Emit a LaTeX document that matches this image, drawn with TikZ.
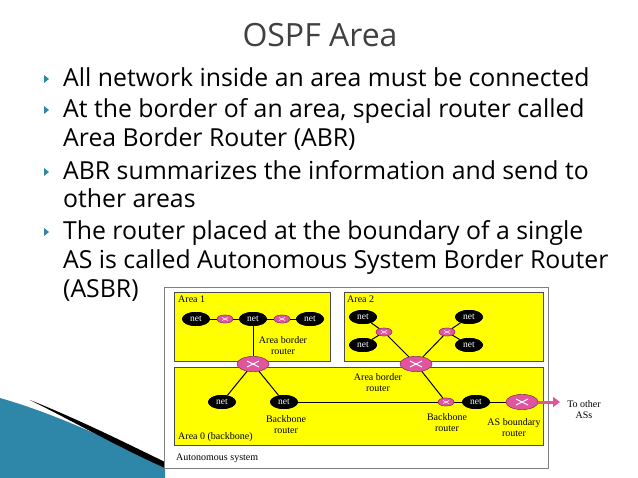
\documentclass[tikz,border=0pt]{standalone}
\usepackage{fontspec}
\setmainfont{Open Sans}
\newfontfamily\diag{Liberation Serif}
\usetikzlibrary{shapes.geometric,arrows.meta}
\definecolor{ylw}{HTML}{FFFF00}
\definecolor{pink}{HTML}{E0559E}
\definecolor{swblue}{HTML}{2E86A8}
\definecolor{ttl}{HTML}{404040}
\tikzset{
  net/.style={ellipse,fill=black,text=white,inner sep=0pt,minimum width=28bp,minimum height=14bp,font=\diag\fontsize{9.5bp}{10bp}\selectfont},
  srouter/.style={ellipse,fill=pink,draw=pink!60!black,inner sep=0pt,minimum width=16bp,minimum height=8bp},
  brouter/.style={ellipse,fill=pink,draw=pink!60!black,inner sep=0pt,minimum width=32bp,minimum height=15bp},
  area/.style={fill=ylw,draw=black!70,line width=0.8bp},
  lbl/.style={font=\diag\fontsize{10bp}{11bp}\selectfont,align=center,inner sep=0pt},
  link/.style={line width=1bp},
  bul/.style={anchor=base west,inner sep=0pt,font=\fontsize{24.8bp}{28bp}\selectfont,text=black},
}
\newcommand{\mybul}[1]{\fill[swblue] (44,#1-12) -- (49,#1-8) -- (44,#1-4) -- cycle;}
\begin{document}
\begin{tikzpicture}[x=1bp,y=-1bp]
\useasboundingbox (0,0) rectangle (638,478);
% swoosh
\fill[swblue] (0,398) .. controls (60,415) and (120,445) .. (165,466) -- (165,478) -- (0,478) -- cycle;
\fill[black] (30,400) .. controls (80,420) and (130,445) .. (165,462) -- (165,468) .. controls (120,448) and (80,425) .. (30,400) -- cycle;
% title
\node[text=ttl,font=\fontsize{32bp}{34bp}\selectfont] (title) at (320,35) {OSPF Area};
% bullets
\mybul{87}\mybul{118}\mybul{180}\mybul{240}
\node[bul] (l1) at (63,87) {All network inside an area must be connected};
\node[bul] (l2) at (63,118) {At the border of an area, special router called};
\node[bul] (l3) at (63,147) {Area Border Router (ABR)};
\node[bul] (l4) at (63,180) {ABR summarizes the information and send to};
\node[bul] (l5) at (63,208) {other areas};
\node[bul] (l6) at (63,240) {The router placed at the boundary of a single};
\node[bul] (l7) at (63,268) {AS is called Autonomous System Border Router};
\node[bul] (l8) at (63,297) {(ASBR)};
% diagram
\draw[fill=white,draw=black!50,line width=0.8bp] (164,287) rectangle (548,468);
\draw[area] (174,292) rectangle (330,361);
\draw[area] (344,292) rectangle (543,361);
\draw[area] (174,367) rectangle (543,445);
\node[lbl,anchor=west] (a1) at (178,299) {Area 1};
\node[lbl,anchor=west] (a2) at (347,299) {Area 2};
\node[lbl,anchor=west] (a0) at (178,437) {Area 0 (backbone)};
\node[lbl,anchor=west] (as) at (176,458) {Autonomous system};
% area 1
\node[net] (n1) at (196,319) {net};
\node[srouter] (r1) at (225,319) {};
\node[net] (n2) at (253,319) {net};
\node[srouter] (r2) at (282,319) {};
\node[net] (n3) at (310,319) {net};
% area 2
\node[net] (m1) at (363,317) {net};
\node[net] (m2) at (363,345) {net};
\node[net] (m3) at (469,317) {net};
\node[net] (m4) at (469,345) {net};
\node[srouter] (q1) at (384,332) {};
\node[srouter] (q2) at (447,332) {};
% backbone
\node[brouter] (abr1) at (253,364) {};
\node[brouter] (abr2) at (416,364) {};
\node[net] (b1) at (222,402) {net};
\node[net] (b2) at (284,402) {net};
\node[srouter] (q3) at (446,402) {};
\node[net] (b3) at (476,402) {net};
\node[brouter] (asbr) at (522,402) {};
\coordinate (out) at (560,402);
\draw[link] (n1) -- (r1) -- (n2) -- (r2) -- (n3);
\draw[link] (n2) -- (abr1);
\draw[link] (m1) -- (q1) -- (m2);
\draw[link] (m3) -- (q2) -- (m4);
\draw[link] (q1) -- (abr2) -- (q2);
\draw[link] (abr1) -- (b1);
\draw[link] (abr1) -- (b2);
\draw[link] (abr2) -- (q3);
\draw[link] (b2) -- (q3) -- (b3) -- (asbr);
% redraw nodes on top
\foreach \n in {n1,n2,n3,m1,m2,m3,m4,b1,b2,b3}{\node[net] at (\n) {net};}
\foreach \n in {r1,r2,q1,q2,q3}{
  \node[srouter] at (\n) {};
  \draw[white,line width=0.6bp] ([shift={(-3,-1.5)}]\n.center) -- ([shift={(3,1.5)}]\n.center);
  \draw[white,line width=0.6bp] ([shift={(-3,1.5)}]\n.center) -- ([shift={(3,-1.5)}]\n.center);
}
\foreach \n in {abr1,abr2,asbr}{
  \node[brouter] at (\n) {};
  \draw[white,line width=1bp] ([shift={(-6,-3)}]\n.center) -- ([shift={(6,3)}]\n.center);
  \draw[white,line width=1bp] ([shift={(-6,3)}]\n.center) -- ([shift={(6,-3)}]\n.center);
}
\draw[pink,line width=3bp,-{Triangle[length=7bp,width=10bp]}] (asbr.east) -- (out);
\node[lbl] (t1) at (283,346) {Area border\\router};
\node[lbl] (t2) at (378,383) {Area border\\router};
\node[lbl] (t3) at (286,425) {Backbone\\router};
\node[lbl] (t4) at (447,423) {Backbone\\router};
\node[lbl] (t5) at (514,428) {AS boundary\\router};
\node[lbl] (t6) at (584,410) {To other\\ASs};
\end{tikzpicture}
\end{document}
